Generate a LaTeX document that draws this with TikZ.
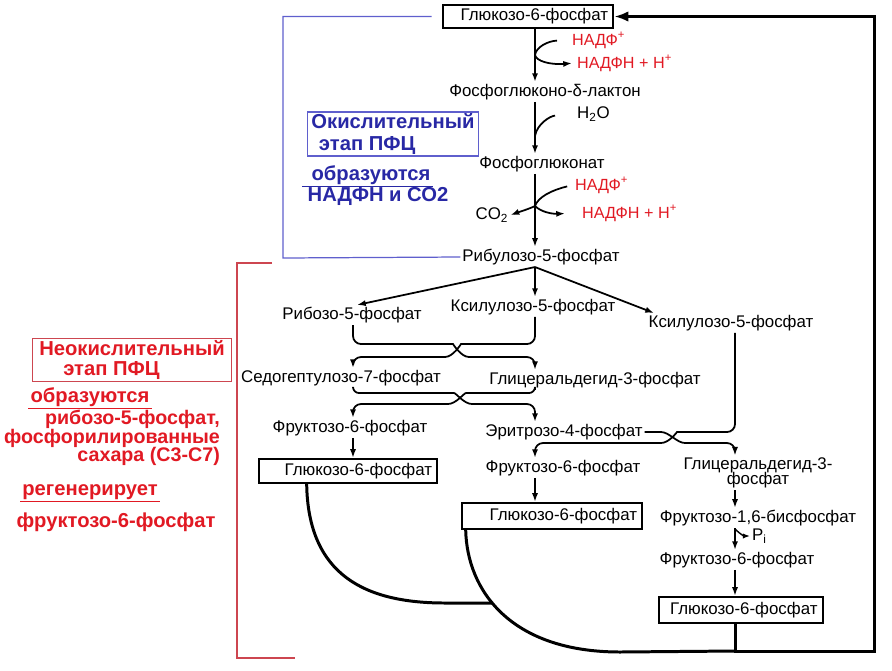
\documentclass[tikz,border=0pt]{standalone}
\usepackage{fontspec}
\setmainfont{Liberation Sans}
\usetikzlibrary{arrows.meta}
\definecolor{oxblue}{RGB}{40,40,165}
\definecolor{oxframe}{RGB}{95,95,205}
\definecolor{nored}{RGB}{225,25,35}
\definecolor{noframe}{RGB}{205,70,80}
\newcommand{\tightlines}{\lineskiplimit=-20pt\relax}
\tikzstyle{met}=[anchor=center, inner sep=1pt, font=\fontsize{9.6}{10}\selectfont]
\tikzstyle{gbox}=[draw, line width=1.2pt, align=right, inner xsep=3pt, inner ysep=0pt, font=\fontsize{9.6}{10}\selectfont]
\tikzstyle{cof}=[anchor=west, inner sep=1pt, text=nored, font=\fontsize{9.2}{10}\selectfont]
\tikzstyle{arr}=[line width=1pt, -{Latex[length=5pt,width=3.5pt]}]
\tikzstyle{back}=[line width=1.7pt]
\tikzstyle{oxtext}=[text=oxblue, inner sep=1pt, font=\fontsize{11.5}{12}\selectfont\bfseries]
\tikzstyle{notext}=[text=nored, inner sep=1pt, font=\fontsize{11.5}{11}\selectfont\bfseries]

\begin{document}
\begin{tikzpicture}[x=0.02cm, y=-0.02cm]
		\useasboundingbox (0,0) rectangle (892,670);
		\coordinate (axis) at (535,0);
		\coordinate (laxis) at (353,0);
		\coordinate (raxis) at (735,0);
		\node(gA)[gbox, text width=3.2cm, minimum height=0.46cm] at (528,16.5) {Глюкозо-6-фосфат};
		\node(nadfA)[cof] at (570,40) {НАДФ\textsuperscript{+}};
		\node(nadphA)[cof] at (575,63) {НАДФН + Н\textsuperscript{+}};
		\node(lac)[met] at (545,92) {Фосфоглюконо-δ-лактон};
		\node(h2o)[met, anchor=west] at (575,114) {H\textsubscript{2}O};
		\node(glc)[met] at (542,164) {Фосфоглюконат};
		\node(nadfB)[cof] at (573,185) {НАДФ\textsuperscript{+}};
		\node(nadphB)[cof] at (580,213) {НАДФН + Н\textsuperscript{+}};
		\node(co2)[met] at (492,215) {CO\textsubscript{2}};
		\node(ribu)[met] at (541,257) {Рибулозо-5-фосфат};
		\node(rbz)[met] at (352,315) {Рибозо-5-фосфат};
		\node(xm)[met] at (533,307) {Ксилулозо-5-фосфат};
		\node(xr)[met] at (731,323) {Ксилулозо-5-фосфат};
		\node(sedo)[met] at (341,378) {Седогептулозо-7-фосфат};
		\node(gapA)[met] at (595,380) {Глицеральдегид-3-фосфат};
		\node(frL)[met] at (350,428) {Фруктозо-6-фосфат};
		\node(ery)[met] at (564,432) {Эритрозо-4-фосфат};
		\node(frM)[met] at (563,468) {Фруктозо-6-фосфат};
		\node(gapB)[met, align=center, font=\fontsize{9.6}{8.6}\selectfont\tightlines] at (758,473) {Глицеральдегид-3-\\фосфат};
		\node(fbis)[met] at (758,518) {Фруктозо-1,6-бисфосфат};
		\node(pi)[met, anchor=west] at (750,536) {P\textsubscript{i}};
		\node(frR)[met] at (737,560) {Фруктозо-6-фосфат};
		\node(gL)[gbox, text width=3.36cm, minimum height=0.48cm] at (348,471) {Глюкозо-6-фосфат};
		\node(gM)[gbox, text width=3.4cm, minimum height=0.52cm] at (552,516) {Глюкозо-6-фосфат};
		\node(gR)[gbox, text width=3.06cm, minimum height=0.52cm] at (741,610) {Глюкозо-6-фосфат};
		\coordinate (j1) at (535,55);
		\coordinate (j2) at (535,136);
		\coordinate (j3) at (535,206);
		\coordinate (j4) at (735,529);
		\draw[arr] (gA.south -| axis) -- (lac.north -| axis);
		\draw[arr, shorten <=0.26cm, shorten >=0.06cm] (nadfA.west) .. controls (548,41) and (536,47) .. (j1) .. controls (536,61) and (550,65) .. (nadphA.west);
		\draw[arr] (lac.south -| axis) -- (glc.north -| axis);
		\draw[line width=1pt, shorten <=0.4cm] (h2o.west) .. controls (550,116) and (537,124) .. (j2);
		\draw[arr] (glc.south -| axis) -- (ribu.north -| axis);
		\draw[line width=1pt, shorten <=0.12cm] (nadfB.west) .. controls (552,190) and (538,197) .. (j3);
		\draw[arr, shorten >=0.3cm] (j3) .. controls (541,212) and (552,214) .. (nadphB.west);
		\draw[arr] (j3) .. controls (529,209) and (516,213) .. (co2.east);
		\draw[arr] (ribu.south -| axis) -- ([xshift=0.1cm]rbz.north);
		\draw[arr] (ribu.south -| axis) -- (xm.north -| axis);
		\draw[arr] (ribu.south -| axis) -- ([xshift=0.15cm]xr.north west);
		\draw[arr] (rbz.south -| laxis) [rounded corners=0.16cm] |- (445,344) [sharp corners] .. controls (453,344) and (461,357) .. (469,357) [rounded corners=0.16cm] -| (gapA.north -| axis);
		\draw[arr] (xm.south -| axis) [rounded corners=0.16cm] |- (469,344) [sharp corners] .. controls (461,344) and (453,357) .. (445,357) [rounded corners=0.16cm] -| (sedo.north -| laxis);
		\draw[arr] (sedo.south -| laxis) [rounded corners=0.12cm] |- (448,393) [sharp corners] .. controls (456,393) and (464,404) .. (472,404) [rounded corners=0.16cm] -| (ery.north -| axis);
		\draw[arr] (gapA.south -| axis) [rounded corners=0.12cm] |- (472,393) [sharp corners] .. controls (464,393) and (456,404) .. (448,404) [rounded corners=0.16cm] -| (frL.north -| laxis);
		\draw[arr] (ery.east) -- (661,432) .. controls (669,432) and (677,443) .. (685,443) [rounded corners=0.16cm] -| (gapB.north -| raxis);
		\draw[arr] (xr.south -| raxis) [rounded corners=0.16cm] |- (685,432) [sharp corners] .. controls (677,432) and (669,443) .. (661,443) [rounded corners=0.16cm] -| (frM.north -| axis);
		\draw[arr] (frL.south -| laxis) -- (gL.north -| laxis);
		\draw[arr] (frM.south -| axis) -- (gM.north -| axis);
		\draw[arr] (gapB.south -| raxis) -- (fbis.north -| raxis);
		\draw[arr] (fbis.south -| raxis) -- (frR.north -| raxis);
		\draw[line width=0.8pt, -{Latex[length=4pt,width=3pt]}] (j4) .. controls (740,534) and (744,536) .. (pi.west);
		\draw[arr] (frR.south -| raxis) -- (gR.north -| raxis);
		\coordinate (lpc) at (874,651);
		\coordinate (jn) at (493,603);
		\draw[back, -{Latex[length=8pt,width=6pt]}] (gR.south -| raxis) |- (lpc) |- (gA.east);
		\draw[back] ([xshift=0.1cm]gM.south west) .. controls (467,590) and (510,652) .. (620,652) -- (lpc -| raxis);
		\draw[back] ([xshift=0.98cm]gL.south west) .. controls (308,575) and (365,603) .. (445,603) -- (jn);
		\draw[oxframe, line width=0.7pt] ([xshift=-0.2cm]gA.west) -| (283,258) -- (ribu.west);
		\node(oxbox)[oxtext, draw=oxframe, line width=0.8pt, align=left, minimum width=3.42cm, minimum height=0.88cm] at (393,134) {Окислительный\\\hspace*{0.15cm}этап ПФЦ};
		\node(obrB)[oxtext] at (371,175) {образуются};
		\draw[oxblue, line width=0.8pt] ([xshift=-0.15cm, yshift=-3.5pt]obrB.base west) -- ([yshift=-3.5pt]obrB.base east);
		\node(nadphco)[oxtext] at (378,196) {НАДФН и СО2};
		\draw[noframe, line width=0.7pt] (272,263) -| (237,658) -- (295,658);
		\node(noxbox)[notext, draw=noframe, line width=0.8pt, align=left, minimum width=3.98cm, minimum height=0.86cm] at (132,360) {Неокислительный\\\hspace*{0.48cm}этап ПФЦ};
		\node(obrR)[notext] at (90,397) {образуются};
		\draw[nored, line width=0.8pt] ([yshift=-3.5pt]obrR.base west) -- ([yshift=-3.5pt]obrR.base east);
		\node(prodR)[notext, align=right, anchor=east, font=\fontsize{11.2}{10.6}\selectfont\bfseries\tightlines] at (222,438) {рибозо-5-фосфат,\\фосфорилированные\\сахара (С3-С7)};
		\node(regR)[notext] at (90,492) {регенерирует};
		\draw[nored, line width=0.8pt] ([yshift=-3.5pt]regR.base west) -- ([yshift=-3.5pt]regR.base east);
		\node(fruR)[notext] at (116,522) {фруктозо-6-фосфат};
		\end{tikzpicture}
\end{document}
